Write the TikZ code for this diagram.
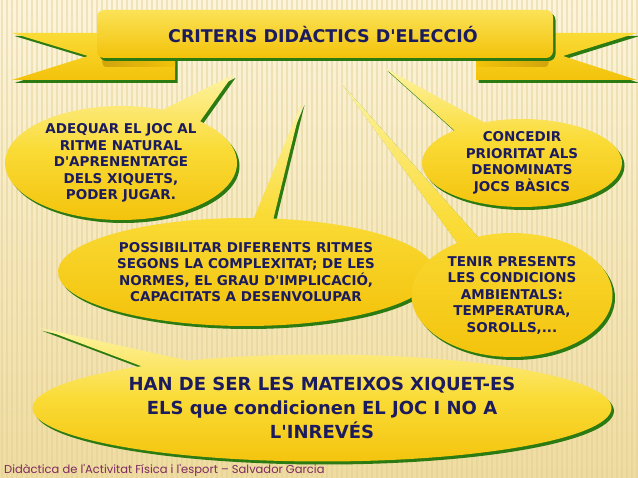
\documentclass[tikz,border=0pt]{standalone}
\usepackage{fontspec}
\newfontfamily\bubblefont{DejaVu Sans}
\newfontfamily\footfont{Poppins}
\usetikzlibrary{shapes.callouts,shadows}
\definecolor{paperlight}{HTML}{FCF5DC}
\definecolor{paperdark}{HTML}{EFDCA0}
\definecolor{stripe}{HTML}{E3CE94}
\definecolor{ink}{HTML}{1B1B5E}
\definecolor{leaf}{HTML}{2B7A12}
\definecolor{lemon}{HTML}{FDF3A2}
\definecolor{sun}{HTML}{FADB36}
\definecolor{gold}{HTML}{F3C20A}
\definecolor{foldgold}{HTML}{CFA40C}
\definecolor{plum}{HTML}{7E2A62}
\newcommand\apos{\textquotesingle}

\begin{document}
\begin{tikzpicture}[x=1pt,y=-1pt,
    greenshadow/.style={drop shadow={shadow xshift=2.5pt,shadow yshift=-3pt,fill=leaf,opacity=1}},
    band/.style={top color=#1,bottom color=gold,greenshadow},
    bubble/.style={ellipse callout,inner sep=0pt,align=center,text=ink,
        font=\bubblefont\bfseries\fontsize{13.5}{16.5}\selectfont,
        top color=lemon,bottom color=gold,middle color=sun,greenshadow}]
    \useasboundingbox (0,0) rectangle (638,478);
    % background
    \shade[top color=paperlight,bottom color=paperdark] (0,0) rectangle (638,478);
    \foreach \x in {2,7,...,638}
        \draw[stripe,line width=1.2pt,opacity=.45] (\x,0) -- (\x,478);

    % ribbon tails and folds
    \path[band=sun] (12,33) -- (175,33) -- (175,80) -- (12,80) -- (88,56) -- cycle;
    \path[band=sun] (637,33) -- (476,33) -- (476,80) -- (637,80) -- (563,56) -- cycle;
    \shade[left color=foldgold,right color=gold] (175,54) -- (106,54) to[out=180,in=180] (106,67) -- (175,67) -- cycle;
    \shade[right color=foldgold,left color=gold] (476,54) -- (545,54) to[out=0,in=0] (545,67) -- (476,67) -- cycle;
    % ribbon
    \path[band=sun!70!lemon,rounded corners=7pt] (97,10) rectangle (553,58);
    \node[font=\bubblefont\bfseries\fontsize{17.5}{20}\selectfont,text=ink] (title) at (323,35) {CRITERIS DIDÀCTICS D\apos ELECCIÓ};

    % pointer tips
    \coordinate (tipadequar) at (233,75);
    \coordinate (tipconcedir) at (385,68);
    \coordinate (tipritmes) at (302,102);
    \coordinate (tipambient) at (340,82);
    \coordinate (tipxiquets) at (40,328);

    % bubbles
    \node[bubble,minimum width=232pt,minimum height=114pt,callout absolute pointer={(tipadequar)},callout pointer arc=22] (adequar) at (121,163)
        {ADEQUAR EL JOC AL\\RITME NATURAL\\D\apos APRENENTATGE\\DELS XIQUETS,\\PODER JUGAR.};
    \node[bubble,minimum width=200pt,minimum height=88pt,callout absolute pointer={(tipconcedir)},callout pointer arc=20] (concedir) at (522,163)
        {CONCEDIR\\PRIORITAT ALS\\DENOMINATS\\JOCS BÀSICS};
    \node[bubble,minimum width=376pt,minimum height=108pt,callout absolute pointer={(tipritmes)},callout pointer arc=6] (ritmes) at (246,272)
        {POSSIBILITAR DIFERENTS RITMES\\SEGONS LA COMPLEXITAT; DE LES\\NORMES, EL GRAU D\apos IMPLICACIÓ,\\CAPACITATS A DESENVOLUPAR};
    \node[bubble,minimum width=201pt,minimum height=124pt,callout absolute pointer={(tipambient)},callout pointer arc=13] (ambient) at (512,295)
        {TENIR PRESENTS\\LES CONDICIONS\\AMBIENTALS:\\TEMPERATURA,\\SOROLLS,...};
    \node[bubble,minimum width=579pt,minimum height=107pt,callout absolute pointer={(tipxiquets)},callout pointer arc=11,
        font=\bubblefont\bfseries\fontsize{18}{24}\selectfont] (xiquets) at (322,408)
        {HAN DE SER LES MATEIXOS XIQUET-ES\\ELS que condicionen EL JOC I NO A\\L\apos INREVÉS};

    % footer
    \node[anchor=west,font=\footfont\fontsize{11.5}{13}\selectfont,text=plum,inner sep=0pt] (footer) at (4,470)
        {Didàctica de l\apos Activitat Física i l\apos esport – Salvador Garcia};
\end{tikzpicture}
\end{document}
